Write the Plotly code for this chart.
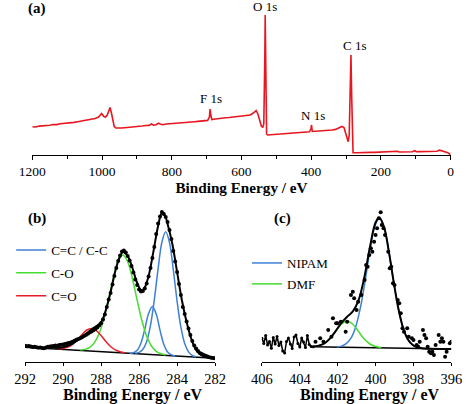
import plotly.graph_objects as go

# ---------------- Panel (a): survey spectrum ----------------
survey_be = [1200, 1190, 1180, 1170, 1160, 1150, 1140, 1130, 1120, 1110, 1100, 1090, 1080, 1070, 1060,
             1050, 1040, 1030, 1020, 1010, 1001, 995, 990, 985, 980, 977, 973, 969, 965, 960, 954,
             945, 935, 925, 915, 905, 895, 885, 875, 865, 858, 852, 845, 838, 833, 826, 815, 805,
             795, 785, 775, 765, 755, 745, 735, 725, 715, 705, 697, 692, 690, 688, 685, 675, 665,
             655, 645, 635, 625, 615, 605, 595, 585, 575, 566, 558, 553, 548, 543, 539, 536, 533,
             532, 530, 528, 525, 515, 505, 495, 485, 475, 465, 455, 445, 435, 425, 415, 405, 401,
             399, 397, 390, 380, 370, 360, 350, 340, 330, 320, 312, 306, 301, 297, 294, 291, 288,
             286, 284, 282, 280, 270, 260, 250, 240, 230, 220, 210, 200, 190, 180, 170, 160, 152,
             148, 140, 130, 120, 110, 103, 98, 90, 80, 70, 60, 50, 40, 32, 28, 22, 15, 10, 5, 0]
survey_int = [28.3, 28.0, 28.9, 29.0, 29.6, 29.8, 30.5, 30.4, 31.2, 31.5, 31.4, 32.3, 32.6, 33.3, 33.8,
              34.6, 35.0, 36.0, 36.5, 38.0, 41.5, 38.5, 38.0, 40.0, 45.0, 47.5, 42.0, 34.0, 28.5, 27.0, 26.7,
              27.0, 27.3, 27.5, 28.0, 28.2, 28.6, 29.0, 29.5, 29.6, 31.0, 29.8, 30.3, 31.8, 31.0, 30.3, 31.0, 31.2,
              31.6, 32.0, 32.0, 32.6, 32.5, 33.0, 33.3, 33.6, 34.0, 34.2, 34.6, 38.0, 46.0, 40.0, 35.5, 36.0, 36.6,
              36.5, 37.2, 37.5, 37.8, 38.3, 38.8, 38.8, 39.3, 40.0, 42.0, 44.5, 41.0, 35.0, 29.0, 27.5, 31.0, 100.0,
              140.0, 80.0, 21.0, 20.0, 20.3, 20.5, 20.8, 21.0, 21.3, 21.6, 21.8, 22.0, 22.3, 22.6, 22.8, 23.2, 26.0,
              30.0, 23.5, 23.6, 23.8, 24.0, 24.3, 24.8, 25.0, 25.6, 27.0, 28.5, 27.5, 22.0, 16.0, 13.3, 20.0, 60.0,
              100.0, 60.0, 10.0, 2.4, 2.3, 2.2, 2.4, 2.5, 2.6, 2.6, 2.7, 2.8, 2.8, 2.9, 3.0, 3.0, 3.8,
              3.0, 3.1, 3.2, 3.2, 3.3, 4.3, 3.3, 3.4, 3.4, 3.5, 3.6, 3.6, 3.7, 4.8, 4.5, 3.6, 3.2, 2.6, 1.5, 0.3]
peak_labels = ["O 1s", "C 1s", "F 1s", "N 1s"]
peak_label_be = [532.5, 277, 687, 394]
peak_label_int = [148.3, 109.3, 57, 40]

# ---------------- Panel (b): C 1s ----------------
c1s_be = [292.0, 291.9, 291.8, 291.7, 291.6, 291.5, 291.4, 291.3, 291.2, 291.1, 291.0, 290.9, 290.8,
          290.7, 290.6, 290.5, 290.4, 290.3, 290.2, 290.1, 290.0, 289.9, 289.8, 289.7, 289.6, 289.5,
          289.4, 289.3, 289.2, 289.1, 289.0, 288.9, 288.8, 288.7, 288.6, 288.5, 288.4, 288.3, 288.2,
          288.1, 288.0, 287.9, 287.8, 287.7, 287.6, 287.5, 287.4, 287.3, 287.2, 287.1, 287.0, 286.9,
          286.8, 286.7, 286.6, 286.5, 286.4, 286.3, 286.2, 286.1, 286.0, 285.9, 285.8, 285.7, 285.6,
          285.5, 285.4, 285.3, 285.2, 285.1, 285.0, 284.9, 284.8, 284.7, 284.6, 284.5, 284.4, 284.3,
          284.2, 284.1, 284.0, 283.9, 283.8, 283.7, 283.6, 283.5, 283.4, 283.3, 283.2, 283.1, 283.0,
          282.9, 282.8, 282.7, 282.6, 282.5, 282.4, 282.3, 282.2, 282.1, 282.0]
c1s_int = [16.3, 15.8, 16.0, 15.4, 15.0, 15.3, 14.8, 14.3, 14.6, 13.9, 13.7, 14.5, 15.2,
           15.5, 15.7, 16.0, 16.6, 16.2, 16.9, 17.3, 17.6, 18.0, 18.6, 19.0, 19.6, 20.3,
           21.3, 22.3, 23.1, 23.8, 24.7, 25.9, 27.1, 28.2, 29.5, 30.4, 31.8, 33.0, 34.6,
           36.6, 38.7, 42.5, 47.5, 55.0, 62.5, 69.0, 77.5, 86.0, 94.0, 101.0, 106.5, 110.5,
           111.5, 109.5, 106.0, 101.5, 96.0, 89.5, 82.5, 77.0, 72.5, 70.5, 71.0, 73.5, 78.5,
           85.5, 94.0, 104.0, 115.0, 128.0, 138.5, 145.5, 150.0, 148.0, 145.0, 140.0, 132.0, 123.0,
           111.0, 100.5, 90.0, 78.0, 67.0, 55.0, 48.0, 40.5, 33.5, 27.0, 21.0, 16.5, 13.5,
           11.0, 9.0, 8.0, 7.0, 6.3, 5.5, 4.8, 4.3, 4.0, 3.7]
c1s_bg_be = [292.0, 282.0]
c1s_bg_int = [14.8, 3.7]
c1s_env_be = [290.5, 290.0, 289.5, 289.0, 288.5, 288.0, 287.75, 287.5, 287.25, 287.0, 286.85, 286.6,
              286.35, 286.1, 285.9, 285.75, 285.5, 285.25, 285.0, 284.8, 284.65, 284.5, 284.25, 284.0,
              283.75, 283.5, 283.25, 283.0, 282.75, 282.5, 282.25, 282.0]
c1s_env_int = [14.2, 14.8, 18.5, 25.0, 32.5, 40.0, 52.0, 70.0, 91.0, 106.0, 110.0, 106.0,
               94.0, 79.0, 72.0, 73.0, 86.0, 110.0, 136.0, 149.0, 147.0, 138.0, 118.0, 90.0,
               62.0, 40.0, 23.0, 12.0, 7.0, 5.0, 4.0, 3.7]
cc_be = [286.2, 286.0, 285.8, 285.6, 285.4, 285.2, 285.0, 284.8, 284.6, 284.4, 284.2, 284.0,
         283.8, 283.6, 283.4, 283.2, 283.0]
cc_int = [8.8, 9.6, 12.7, 20.6, 36.6, 62.1, 93.1, 119.8, 130.3, 119.4, 92.2, 60.7,
          34.8, 18.4, 10.1, 6.5, 5.2]
cc2_be = [286.5, 286.3, 286.1, 285.9, 285.7, 285.5, 285.3, 285.1, 284.9, 284.7, 284.5, 284.3, 284.1]
cc2_int = [8.8, 9.3, 11.7, 19.0, 32.8, 48.4, 55.4, 47.9, 31.9, 17.7, 10.0, 7.1, 6.1]
co_be = [289.1, 288.85, 288.6, 288.35, 288.1, 287.85, 287.6, 287.35, 287.1, 286.85, 286.6, 286.35,
         286.1, 285.85, 285.6, 285.35, 285.1, 284.85, 284.6]
co_int = [12.0, 12.6, 14.6, 19.4, 28.6, 43.4, 63.2, 84.4, 101.0, 107.1, 100.4, 83.3,
          61.6, 41.2, 25.8, 16.0, 10.7, 8.2, 7.0]
cdo_be = [290.25, 290.0, 289.75, 289.5, 289.25, 289.0, 288.75, 288.5, 288.25, 288.0, 287.75,
          287.5, 287.25, 287.0, 286.75]
cdo_int = [13.2, 13.6, 14.9, 17.7, 22.2, 27.5, 32.0, 33.6, 31.4, 26.4, 20.5, 15.5, 12.1, 10.3, 9.3]

# ---------------- Panel (c): N 1s ----------------
n1s_noise_be = [406.0, 405.9, 405.8, 405.7, 405.6, 405.5, 405.4, 405.3, 405.2, 405.1, 405.0, 404.9,
                404.8, 404.7, 404.6, 404.5, 404.4, 404.3, 404.2, 404.1, 404.0, 403.9, 403.8, 403.7,
                403.6, 403.5, 403.4, 403.3]
n1s_noise_int = [23.7, 18.5, 26.5, 17.0, 20.5, 13.7, 24.5, 18.0, 25.5, 16.5, 20.0, 11.0,
                 9.0, 20.5, 24.0, 18.0, 13.5, 25.0, 27.0, 18.5, 15.0, 24.0, 20.0, 14.5,
                 26.5, 17.5, 15.5, 15.3]
n1s_be = [403.17, 402.92, 402.75, 402.5, 402.33, 402.25, 402.08, 402.0, 401.83, 401.58, 401.5, 401.3,
          401.2, 401.13, 401.0, 400.92, 400.75, 400.58, 400.5, 400.42, 400.33, 400.25, 400.17, 400.08,
          400.0, 399.92, 399.83, 399.73, 399.67, 399.58, 399.5, 399.33, 399.25, 399.17, 399.08, 399.0,
          398.83, 398.75, 398.67, 398.58, 398.5, 398.33, 398.25, 398.08, 398.0, 397.83, 397.75, 397.67,
          397.5, 397.42, 397.33, 397.25, 397.17, 397.08, 397.0, 396.92, 396.83, 396.67, 396.58, 396.5,
          396.42, 396.33, 396.25, 396.08, 396.0]
n1s_int = [20.3, 23.7, 20.3, 32.0, 25.3, 43.7, 38.7, 38.7, 40.3, 30.3, 40.3, 67.0,
           70.3, 63.7, 52.0, 60.3, 67.0, 82.0, 97.0, 95.3, 107.0, 113.7, 110.3, 120.3,
           127.0, 133.7, 143.7, 149.7, 137.0, 133.7, 127.0, 110.3, 93.7, 95.3, 78.7, 77.0,
           62.0, 58.7, 48.7, 33.7, 30.3, 33.7, 25.3, 23.7, 22.0, 17.0, 15.3, 20.3,
           32.0, 27.0, 23.7, 15.3, 10.3, 8.7, 10.3, 7.0, 17.0, 27.0, 20.3, 23.7,
           20.3, 5.3, 10.3, 18.7, 20.3]
n1s_bg_be = [403.3, 396.0]
n1s_bg_int = [15.3, 13.0]
n1s_env_be = [403.3, 403.0, 402.7, 402.4, 402.1, 401.8, 401.5, 401.2, 400.9, 400.6, 400.3, 400.0,
              399.8, 399.55, 399.3, 399.05, 398.8, 398.55, 398.3, 398.05, 397.8, 397.55, 396.0]
n1s_env_int = [15.6, 16.4, 18.7, 23.6, 31.2, 39.1, 45.3, 50.6, 61.6, 84.0, 114.7, 139.5,
               144.3, 134.8, 110.7, 80.8, 53.7, 34.3, 22.8, 17.2, 14.7, 13.8, 13.0]
nipam_be = [402.05, 401.8, 401.55, 401.3, 401.05, 400.8, 400.55, 400.3, 400.05, 399.8, 399.55, 399.3,
            399.05, 398.8, 398.55, 398.3, 398.05, 397.8, 397.55]
nipam_int = [15.2, 15.9, 18.3, 23.8, 35.1, 54.3, 81.2, 111.1, 135.0, 144.2, 134.8, 110.7,
             80.8, 53.7, 34.3, 22.8, 17.2, 14.7, 13.8]
dmf_be = [403.3, 403.0, 402.7, 402.4, 402.1, 401.8, 401.5, 401.2, 400.9, 400.6, 400.3, 400.0, 399.7]
dmf_int = [15.6, 16.4, 18.7, 23.5, 30.9, 38.0, 41.0, 37.8, 30.5, 23.0, 18.0, 15.5, 14.5]

AXIS_TITLE = "Binding Energy / eV"

RED = "rgb(232,22,32)"
BLUE = "rgb(62,128,214)"
GREEN = "rgb(70,220,50)"
REDC = "rgb(230,30,40)"
SERIF = "Liberation Serif"

fig = go.Figure()

# (a)
fig.add_trace(go.Scatter(x=survey_be, y=survey_int, mode="lines", line=dict(color=RED, width=1.6),
                         xaxis="x", yaxis="y", showlegend=False))

# (b)
fig.add_trace(go.Scatter(x=c1s_bg_be, y=c1s_bg_int, mode="lines", line=dict(color="black", width=1.4),
                         xaxis="x2", yaxis="y2", showlegend=False))
fig.add_trace(go.Scatter(x=cc_be, y=cc_int, mode="lines", line=dict(color=BLUE, width=1.5, shape="spline"),
                         name="C=C / C-C", legend="legend", legendgroup="g1", xaxis="x2", yaxis="y2"))
fig.add_trace(go.Scatter(x=cc2_be, y=cc2_int, mode="lines", line=dict(color=BLUE, width=1.5, shape="spline"),
                         showlegend=False, xaxis="x2", yaxis="y2"))
fig.add_trace(go.Scatter(x=co_be, y=co_int, mode="lines", line=dict(color=GREEN, width=1.5, shape="spline"),
                         name="C-O", legend="legend", legendgroup="g2", xaxis="x2", yaxis="y2"))
fig.add_trace(go.Scatter(x=cdo_be, y=cdo_int, mode="lines", line=dict(color=REDC, width=1.5, shape="spline"),
                         name="C=O", legend="legend", legendgroup="g3", xaxis="x2", yaxis="y2"))
fig.add_trace(go.Scatter(x=c1s_env_be, y=c1s_env_int, mode="lines", line=dict(color="black", width=2, shape="spline"),
                         showlegend=False, xaxis="x2", yaxis="y2"))
fig.add_trace(go.Scatter(x=c1s_be, y=c1s_int, mode="markers", marker=dict(color="black", size=4),
                         showlegend=False, xaxis="x2", yaxis="y2"))

# (c)
fig.add_trace(go.Scatter(x=n1s_bg_be, y=n1s_bg_int, mode="lines", line=dict(color="black", width=1.4),
                         xaxis="x3", yaxis="y3", showlegend=False))
fig.add_trace(go.Scatter(x=nipam_be, y=nipam_int, mode="lines", line=dict(color=BLUE, width=1.5, shape="spline"),
                         name="NIPAM", legend="legend2", legendgroup="h1", xaxis="x3", yaxis="y3"))
fig.add_trace(go.Scatter(x=dmf_be, y=dmf_int, mode="lines", line=dict(color=GREEN, width=1.5, shape="spline"),
                         name="DMF", legend="legend2", legendgroup="h2", xaxis="x3", yaxis="y3"))
fig.add_trace(go.Scatter(x=n1s_env_be, y=n1s_env_int, mode="lines", line=dict(color="black", width=2, shape="spline"),
                         showlegend=False, xaxis="x3", yaxis="y3"))
fig.add_trace(go.Scatter(x=n1s_noise_be, y=n1s_noise_int, mode="lines+markers",
                         line=dict(color="black", width=1.5), marker=dict(color="black", size=3),
                         showlegend=False, xaxis="x3", yaxis="y3"))
fig.add_trace(go.Scatter(x=n1s_be, y=n1s_int, mode="markers", marker=dict(color="black", size=4),
                         showlegend=False, xaxis="x3", yaxis="y3"))

W, H = 474, 404


def px_x(p):
    return p / W


def px_y(p):
    return 1 - p / H


def xaxis_common(tick_size, ticklen):
    return dict(showline=True, linecolor="black", linewidth=1.3, showgrid=False, zeroline=False,
                ticks="outside", ticklen=ticklen, tickwidth=1.2, tickcolor="black",
                tickfont=dict(family=SERIF, size=tick_size, color="black"))


yaxis_hidden = dict(visible=False, showgrid=False, zeroline=False)

xa = xaxis_common(13.5, 4)
xa.update(domain=[px_x(19.3), px_x(461)], range=[1200, 0], anchor="y", tickvals=[1200, 1000, 800, 600, 400, 200, 0],
          minor=dict(tickvals=[1100, 900, 700, 500, 300, 100], ticks="outside", ticklen=3, tickcolor="black"),
          title=dict(text="<b>" + AXIS_TITLE + "</b>", font=dict(family=SERIF, size=15.2, color="black"), standoff=2))
xb = xaxis_common(14.5, 3)
xb.update(domain=[px_x(11.7), px_x(212.3)], range=[292, 282], anchor="y2", tickvals=[292, 290, 288, 286, 284, 282])
xc = xaxis_common(14.5, 3)
xc.update(domain=[px_x(261.7), px_x(461.7)], range=[406, 396], anchor="y3", tickvals=[406, 404, 402, 400, 398, 396])

ya = dict(yaxis_hidden, domain=[px_y(155), px_y(5)], range=[0, 150], anchor="x")
yb = dict(yaxis_hidden, domain=[px_y(362), px_y(205)], range=[0, 157], anchor="x2")
yc = dict(yaxis_hidden, domain=[px_y(362), px_y(205)], range=[0, 157], anchor="x3")

annotations = []
for t, xv, yv in zip(peak_labels, peak_label_be, peak_label_int):
    annotations.append(dict(text=t, x=xv, y=yv, xref="x", yref="y", showarrow=False,
                            font=dict(family=SERIF, size=13, color="black"), xanchor="center", yanchor="middle"))
for t, xp, yp in [("(a)", 12.5, 8), ("(b)", 13, 218), ("(c)", 272.5, 218)]:
    annotations.append(dict(text="<b>" + t + "</b>", x=px_x(xp), y=px_y(yp), xref="paper", yref="paper",
                            showarrow=False, xanchor="left", yanchor="middle",
                            font=dict(family=SERIF, size=15, color="black")))
# axis titles of the two lower panels (placed below their tick labels)
for xr in ["x2 domain", "x3 domain"]:
    annotations.append(dict(text="<b>" + AXIS_TITLE + "</b>", x=0.57, y=px_y(395), xref=xr, yref="paper",
                            showarrow=False, xanchor="center", yanchor="middle",
                            font=dict(family=SERIF, size=16, color="black")))

fig.update_layout(
    width=W, height=H, margin=dict(l=0, r=0, t=0, b=0),
    paper_bgcolor="white", plot_bgcolor="white",
    xaxis=xa, yaxis=ya, xaxis2=xb, yaxis2=yb, xaxis3=xc, yaxis3=yc,
    annotations=annotations,
    legend=dict(x=px_x(-3), y=px_y(235), xanchor="left", yanchor="top", bgcolor="rgba(0,0,0,0)",
                font=dict(family=SERIF, size=13, color="black"), tracegroupgap=3, itemwidth=30),
    legend2=dict(x=px_x(246), y=px_y(248), xanchor="left", yanchor="top", bgcolor="rgba(0,0,0,0)",
                 font=dict(family=SERIF, size=13, color="black"), tracegroupgap=1, itemwidth=30),
)

fig.write_html("out.html")
